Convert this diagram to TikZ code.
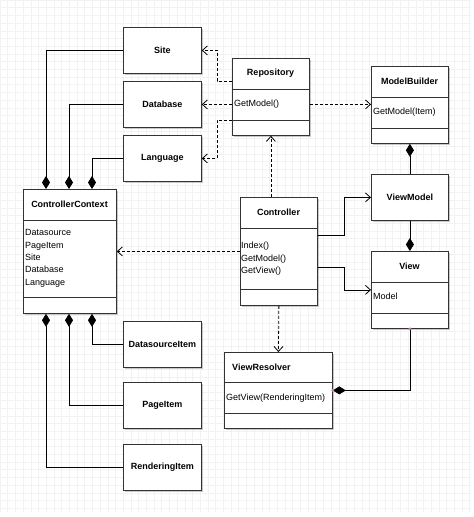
\documentclass[tikz,border=0pt]{standalone}
\usepackage{fontspec}
\setmainfont{Liberation Sans}
\usetikzlibrary{arrows.meta,shadows,calc}
\begin{document}
\begin{tikzpicture}[x={(1pt,0)},y={(0,-1pt)},
  classbox/.style={draw=black!80, fill=white, line width=0.8pt, rectangle, inner sep=0pt, anchor=north west,
    drop shadow={shadow xshift=1.3pt,shadow yshift=-1.3pt,opacity=0.35,fill=black!60}},
  ctitle/.style={font=\fontsize{9}{11}\selectfont\bfseries, inner sep=0pt},
  cattr/.style={font=\fontsize{9}{12.3}\selectfont, align=left, anchor=north west, inner sep=0pt},
  divline/.style={draw=black!80, line width=0.8pt},
  compo/.style={draw=black, line width=0.8pt},
  dia/.tip={Diamond[length=13pt,width=8pt]},
  dep/.style={draw=black, line width=0.8pt, dash pattern=on 3pt off 2pt, -{Straight Barb[length=5pt,width=9pt]}},
  assoc/.style={draw=black, line width=0.8pt, -{Straight Barb[length=5pt,width=9pt]}},
  pdot/.style={fill=violet!50, draw=none, circle, inner sep=0pt, minimum size=3pt}
]
% background and grid
\fill[white] (0,0) rectangle (474,517);
\useasboundingbox (0,0) rectangle (474,517);
\foreach \g in {0,7.7,...,471} {
  \draw[black!5, line width=0.5pt] (\g,0) -- (\g,512);
}
\foreach \g in {0,7.7,...,512} {
  \draw[black!5, line width=0.5pt] (0,\g) -- (471,\g);
}

% ---- simple boxes (left column)
\node[classbox, minimum width=78pt, minimum height=46pt] (site) at (123,27) {};
\node[ctitle] (site-t) at (site.center) {Site};
\node[classbox, minimum width=78pt, minimum height=46pt] (db) at (123,81) {};
\node[ctitle] (db-t) at (db.center) {Database};
\node[classbox, minimum width=78pt, minimum height=46pt] (lang) at (123,135) {};
\node[ctitle] (lang-t) at (lang.center) {Language};
\node[classbox, minimum width=78pt, minimum height=46pt] (dsi) at (123,321) {};
\node[ctitle] (dsi-t) at (dsi.center) {DatasourceItem};
\node[classbox, minimum width=78pt, minimum height=46pt] (pgi) at (123,382) {};
\node[ctitle] (pgi-t) at (pgi.center) {PageItem};
\node[classbox, minimum width=78pt, minimum height=46pt] (rdi) at (123,444) {};
\node[ctitle] (rdi-t) at (rdi.center) {RenderingItem};

% ---- ControllerContext
\node[classbox, minimum width=93pt, minimum height=124pt] (cc) at (23,189) {};
\draw[divline] ($(cc.north west)+(0,31)$) -- ($(cc.north east)+(0,31)$);
\draw[divline] ($(cc.north west)+(0,108)$) -- ($(cc.north east)+(0,108)$);
\node[ctitle] (cc-t) at (69.5,204.5) {ControllerContext};
\node[cattr] (cc-a) at (25,229.5) {Datasource\\PageItem\\Site\\Database\\Language};

% ---- Repository
\node[classbox, minimum width=77pt, minimum height=77pt] (repo) at (232,58) {};
\draw[divline] ($(repo.north west)+(0,31)$) -- ($(repo.north east)+(0,31)$);
\draw[divline] ($(repo.north west)+(0,62)$) -- ($(repo.north east)+(0,62)$);
\node[ctitle] (repo-t) at (270.5,73.5) {Repository};
\node[cattr] (repo-a) at (234,99.5) {GetModel()};

% ---- ModelBuilder
\node[classbox, minimum width=77pt, minimum height=77pt] (mb) at (371,66) {};
\draw[divline] ($(mb.north west)+(0,31)$) -- ($(mb.north east)+(0,31)$);
\draw[divline] ($(mb.north west)+(0,62)$) -- ($(mb.north east)+(0,62)$);
\node[ctitle] (mb-t) at (409.5,81.5) {ModelBuilder};
\node[cattr] (mb-a) at (373,108) {GetModel(Item)};

% ---- ViewModel
\node[classbox, minimum width=77pt, minimum height=46pt] (vm) at (371,174) {};
\node[ctitle] (vm-t) at (vm.center) {ViewModel};

% ---- View
\node[classbox, minimum width=77pt, minimum height=77pt] (view) at (371,251) {};
\draw[divline] ($(view.north west)+(0,31)$) -- ($(view.north east)+(0,31)$);
\draw[divline] ($(view.north west)+(0,62)$) -- ($(view.north east)+(0,62)$);
\node[ctitle] (view-t) at (409.5,266.5) {View};
\node[cattr] (view-a) at (373,293) {Model};

% ---- Controller
\node[classbox, minimum width=77pt, minimum height=108pt] (ctrl) at (240,197) {};
\draw[divline] ($(ctrl.north west)+(0,31)$) -- ($(ctrl.north east)+(0,31)$);
\draw[divline] ($(ctrl.north west)+(0,92)$) -- ($(ctrl.north east)+(0,92)$);
\node[ctitle] (ctrl-t) at (278.5,212.5) {Controller};
\node[cattr] (ctrl-a) at (241,242) {Index()\\GetModel()\\GetView()};

% ---- ViewResolver
\node[classbox, minimum width=108pt, minimum height=76pt] (vr) at (224,352) {};
\draw[divline] ($(vr.north west)+(0,30)$) -- ($(vr.north east)+(0,30)$);
\draw[divline] ($(vr.north west)+(0,61)$) -- ($(vr.north east)+(0,61)$);
\node[ctitle, anchor=west] (vr-t) at (232,367) {ViewResolver};
\node[cattr] (vr-a) at (226,393.5) {GetView(RenderingItem)};

% ---- compositions to ControllerContext (top)
\draw[compo, -dia] (site.west) -| ($(cc.north west)+(23,0)$);
\draw[compo, -dia] (db.west) -| ($(cc.north west)+(46,0)$);
\draw[compo, -dia] (lang.west) -| ($(cc.north west)+(69,0)$);
% (bottom)
\draw[compo, -dia] (dsi.west) -| ($(cc.south west)+(69,0)$);
\draw[compo, -dia] (pgi.west) -| ($(cc.south west)+(46,0)$);
\draw[compo, -dia] (rdi.west) -| ($(cc.south west)+(23,0)$);

% ---- Repository dependencies
\draw[dep] ($(repo.north west)+(0,23)$) -- ++(-15,0) |- (site.east);
\draw[dep] (repo.west |- db.east) -- (db.east);
\draw[dep] ($(repo.north west)+(0,62)$) -- ++(-15,0) |- (lang.east);
\draw[dep] (repo.east |- db.east) -- (mb.west |- db.east);

% ---- Controller dependencies
\draw[dep] (ctrl.north -| repo.south) -- (repo.south);
\draw[dep] (ctrl.west) -- (cc.east);
\draw[dep] (ctrl.south) -- (vr.north);

% ---- Controller associations
\draw[assoc] ($(ctrl.north east)+(0,38)$) -- ++(27,0) |- (vm.west);
\draw[assoc] ($(ctrl.north east)+(0,70)$) -- ++(27,0) |- (view.west);

% ---- ModelBuilder / ViewModel / View compositions
\draw[compo, dia-] (mb.south) -- (vm.north);
\draw[compo, -dia] (vm.south) -- (view.north);
\draw[compo, -dia] (view.south) |- (vr.east);
\node[pdot] (p1) at (view.south) {};
\node[pdot] (p2) at (vr.east) {};
\end{tikzpicture}
\end{document}
